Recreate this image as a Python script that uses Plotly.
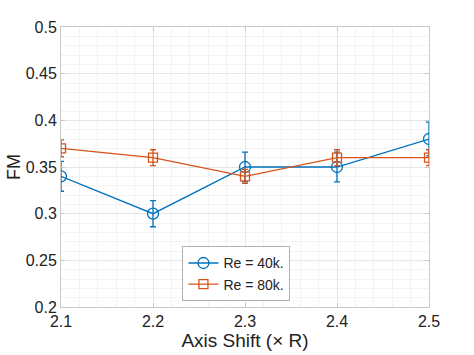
import plotly.graph_objects as go

x = [2.1, 2.2, 2.3, 2.4, 2.5]
fm_40k = [0.34, 0.30, 0.35, 0.35, 0.38]
err_40k = [0.016, 0.014, 0.016, 0.016, 0.018]
fm_80k = [0.37, 0.36, 0.34, 0.36, 0.36]
err_80k = [0.009, 0.0085, 0.0075, 0.0085, 0.0085]
xticks = [2.1, 2.2, 2.3, 2.4, 2.5]
yticks = [0.2, 0.25, 0.3, 0.35, 0.4, 0.45, 0.5]

blue = "#0072BD"
orange = "#D95319"
font = "Liberation Sans, Arial, sans-serif"

fig = go.Figure()
fig.add_trace(go.Scatter(
    x=x, y=fm_40k, mode="lines+markers", name="Re = 40k.",
    line=dict(color=blue, width=1.3),
    marker=dict(symbol="circle-open", size=11, color=blue, line=dict(width=1.3)),
    error_y=dict(type="data", array=err_40k, color=blue, thickness=1.3, width=3),
))
fig.add_trace(go.Scatter(
    x=x, y=fm_80k, mode="lines+markers", name="Re = 80k.",
    line=dict(color=orange, width=1.3),
    marker=dict(symbol="square-open", size=9, color=orange, line=dict(width=1.3)),
    error_y=dict(type="data", array=err_80k, color=orange, thickness=1.3, width=3),
))

axis_common = dict(
    showline=True, linecolor="#c8c8c8", linewidth=1, mirror="ticks",
    ticks="inside", ticklen=4, tickcolor="#c8c8c8",
    showgrid=True, gridcolor="#e6e6e6", gridwidth=1,
    zeroline=False, automargin=False,
    tickfont=dict(family=font, size=16, color="#222222"),
)

fig.update_xaxes(
    range=[2.1, 2.5], tickvals=xticks, ticktext=[f"{v:.1f}" for v in xticks],
    title=dict(text="Axis Shift (× R)", font=dict(family=font, size=19, color="#222222"), standoff=2),
    minor=dict(dtick=0.02, showgrid=True, gridcolor="#f3f3f3", gridwidth=1, ticks=""),
    **axis_common,
)
fig.update_yaxes(
    range=[0.2, 0.5], tickvals=yticks, ticktext=["0.2", "0.25", "0.3", "0.35", "0.4", "0.45", "0.5"],
    minor=dict(dtick=0.01, showgrid=True, gridcolor="#f3f3f3", gridwidth=1, ticks=""),
    **axis_common,
)

fig.add_annotation(
    text="FM", xref="paper", yref="paper", x=0, y=0.5,
    xanchor="center", yanchor="middle", xshift=-47, textangle=-90,
    showarrow=False, font=dict(family=font, size=18, color="#222222"),
)

fig.update_layout(
    width=474, height=355,
    margin=dict(l=61, r=45, t=27, b=48, autoexpand=False),
    plot_bgcolor="white", paper_bgcolor="white",
    font=dict(family=font, color="#222222"),
    hovermode=False,
    legend=dict(
        x=0.33, y=0.02, xanchor="left", yanchor="bottom",
        bgcolor="white", bordercolor="#b0b0b0", borderwidth=1,
        font=dict(family=font, size=14, color="#222222"),
        itemwidth=30, tracegroupgap=0,
    ),
)

# remove the page's default 8px body margin so the figure fills the window exactly
fig.write_html(
    "out.html",
    config={"displayModeBar": False},
    post_script="document.body.style.margin='0px';",
)
